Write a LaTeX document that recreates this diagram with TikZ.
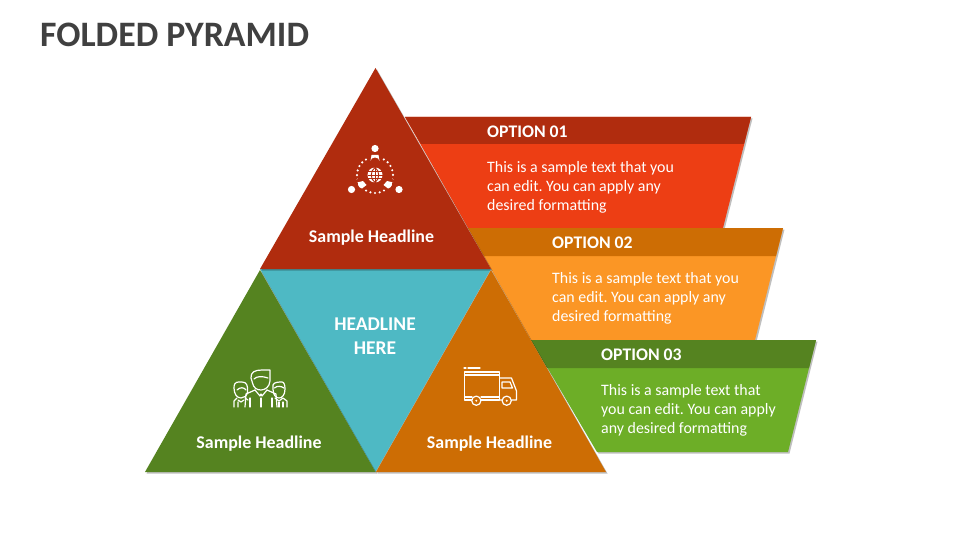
\documentclass[tikz,border=0pt]{standalone}
\usepackage{fontspec}
\setmainfont{Carlito}
\usetikzlibrary{shadows,fadings}
\definecolor{cred}{HTML}{B02C0E}
\definecolor{corange}{HTML}{CD6D04}
\definecolor{cgreen}{HTML}{558320}
\definecolor{cteal}{HTML}{4EB9C4}
\definecolor{bred}{HTML}{ED3E14}
\definecolor{borange}{HTML}{FB9625}
\definecolor{bgreen}{HTML}{6DAE27}
\definecolor{ctitle}{HTML}{404040}
\tikzset{
  softshadow/.style={drop shadow={shadow xshift=1.5pt,shadow yshift=-1.5pt,fill=black,opacity=.25}},
  facefill/.style={fill=#1,draw=none},
  headtext/.style={text=white,font=\frenchspacing\bfseries\fontsize{17.9}{21}\selectfont,anchor=center,inner sep=0pt},
  optiontext/.style={text=white,font=\bfseries\fontsize{17.7}{21}\selectfont,anchor=west,inner sep=0pt},
  bodytext/.style={text=white,font=\frenchspacing\fontsize{15.9}{19}\selectfont,anchor=west,align=left,inner sep=0pt},
  iconline/.style={draw=white,line width=1.2pt,line join=round,line cap=round,fill=none}
}
\begin{document}
\begin{tikzpicture}[x=1pt,y=-1pt]
\useasboundingbox (0,0) rectangle (960,540);
\fill[white] (0,0) rectangle (960,540);
\node[anchor=west,inner sep=0pt,text=ctitle,font=\bfseries\fontsize{35.8}{40}\selectfont] (title) at (40,34.5) {FOLDED PYRAMID};

% band 1
\path[facefill=bred,softshadow] (405,117) -- (751,117) -- (723,228) -- (468,228) -- cycle;
\fill[cred] (405,117) -- (751,117) -- (744,144) -- (421,144) -- cycle;
% band 2
\path[facefill=borange,softshadow] (468,228) -- (783,228) -- (755,340) -- (531,340) -- cycle;
\fill[corange] (468,228) -- (783,228) -- (776,256) -- (484,256) -- cycle;
% band 3
\path[facefill=bgreen,softshadow] (531,340) -- (816,340) -- (788,452) -- (597,452) -- cycle;
\fill[cgreen] (531,340) -- (816,340) -- (809,368) -- (547,368) -- cycle;

% triangles
\path[facefill=cteal,softshadow] (260,269) -- (491,269) -- (375.5,472) -- cycle;
\path[facefill=cgreen,softshadow] (260,270) -- (145,472) -- (375.5,472) -- cycle;
\path[facefill=corange,softshadow] (491,270) -- (376,472) -- (606,472) -- cycle;
\path[facefill=cred,softshadow] (375.5,68) -- (260,269) -- (491,269) -- cycle;

% texts
\node[headtext] (h1) at (371.5,237.5) {Sample Headline};
\node[headtext] (h2) at (259,443.5) {Sample Headline};
\node[headtext] (h3) at (489.5,443.5) {Sample Headline};
\node[text=white,font=\bfseries\fontsize{19.5}{24}\selectfont,align=center,inner sep=0pt] (center) at (375,336) {HEADLINE\\[0pt]HERE};

\node[optiontext] (o1) at (487,132) {OPTION 01};
\node[bodytext] (b1) at (487,187) {This is a sample text that you\\can edit. You can apply any\\desired formatting};
\node[optiontext] (o2) at (552,243) {OPTION 02};
\node[bodytext] (b2) at (552,298) {This is a sample text that you\\can edit. You can apply any\\desired formatting};
\node[optiontext] (o3) at (601,355) {OPTION 03};
\node[bodytext] (b3) at (601,410) {This is a sample text that\\you can edit. You can apply\\any desired formatting};

% globe icon
\draw[white,line width=2.4pt,line cap=round,dash pattern=on 0pt off 4.7pt] (375,175) circle (18);
\fill[cred] (375,158) circle (6.5) (361,184.5) circle (6.5) (389,184.5) circle (6.5);
\fill[white] (375,148.5) circle (3.6) (351.5,189.5) circle (3.6) (399,189.5) circle (3.6);
\fill[white] (371.5,155) -- (378.5,155) -- (379.5,161) arc (0:-180:4.5 and 3.5) -- cycle;
\fill[white] (357,182.5) -- (363,181) -- (366.5,185) -- (362,188.5) arc (100:200:5) -- cycle;
\fill[white] (393,182.5) -- (387,181) -- (383.5,185) -- (388,188.5) arc (80:-20:5) -- cycle;
\fill[white] (375,175) circle (7.5);
\draw[cred,line width=.95pt] (367.5,175) -- (382.5,175) (368.4,171.4) -- (381.6,171.4) (368.4,178.6) -- (381.6,178.6) (375,167.5) -- (375,182.5);
\draw[cred,line width=.95pt] (375,167.5) .. controls (370,171) and (370,179) .. (375,182.5) (375,167.5) .. controls (380,171) and (380,179) .. (375,182.5);

% people icon
\begin{scope}[iconline]
% centre
\draw (252.5,383) -- (251,378) .. controls (250.5,372) and (255,370) .. (262,370) -- (270,370) -- (270,381) .. controls (269.5,387) and (265,390) .. (261,390) .. controls (257,390) and (253.5,388) .. (252.5,383) -- cycle;
\draw (254,379) .. controls (257,376) and (262,376) .. (268,378);
\draw (255,390) -- (246,394) -- (245,407) (267,390) -- (276,394) -- (277,407);
\draw (255,390) -- (260,396) -- (261,394) -- (262,396) -- (267,390);
\draw (261,398) -- (261,407);
\draw (250,398) -- (250,407) (272,398) -- (272,407);
% left
\draw (234,388) .. controls (234,381) and (238,382) .. (242,382) .. controls (247,382) and (248,386) .. (247.5,392) .. controls (247,396) and (244,398) .. (241,398) .. controls (237,398) and (234,394) .. (234,388) -- cycle;
\draw (237,390) .. controls (240,387) and (244,387) .. (246,390);
\draw (237,398) -- (234,401) -- (234,407) (245,398) -- (248,400);
\draw (238,400) -- (241,402) -- (244,400) (238,407) -- (238,402);
% right
\draw (273,385) .. controls (274,382) and (279,382) .. (282,382) .. controls (284,382) and (285,385) .. (285,389) .. controls (285,395) and (282,398) .. (279,398) .. controls (276,398) and (273,395) .. (273,389) -- cycle;
\draw (274.5,388) .. controls (277,385.5) and (281,386) .. (284,388);
\draw (275,398) -- (279,401) -- (283,398) -- (287,401) -- (287,407);
\draw (283,402) -- (283,407) (279,402) -- (279,407);
\end{scope}

% truck icon
\begin{scope}[iconline]
\draw (471.5,400) -- (464.5,400) -- (464.5,372) -- (499.5,372) -- (499.5,400) -- (481,400);
\draw (464.5,375) -- (499.5,375);
\draw (464.5,397) -- (472,397) (481,397) -- (499.5,397);
\draw (464,368) -- (466,368) (468,368) -- (480,368);
\draw (499.5,378) -- (511.5,378) -- (516.5,391) -- (516.5,400) -- (511.5,400) (502,400) -- (499.5,400);
\draw (502,382) -- (510,382) -- (512.5,388) -- (502,388) -- cycle;
\draw (476.3,400.7) circle (4.6) (506.7,400.7) circle (4.6);
\end{scope}
\fill[white] (476.3,400.7) circle (1.1) (506.7,400.7) circle (1.1);
\end{tikzpicture}
\end{document}
